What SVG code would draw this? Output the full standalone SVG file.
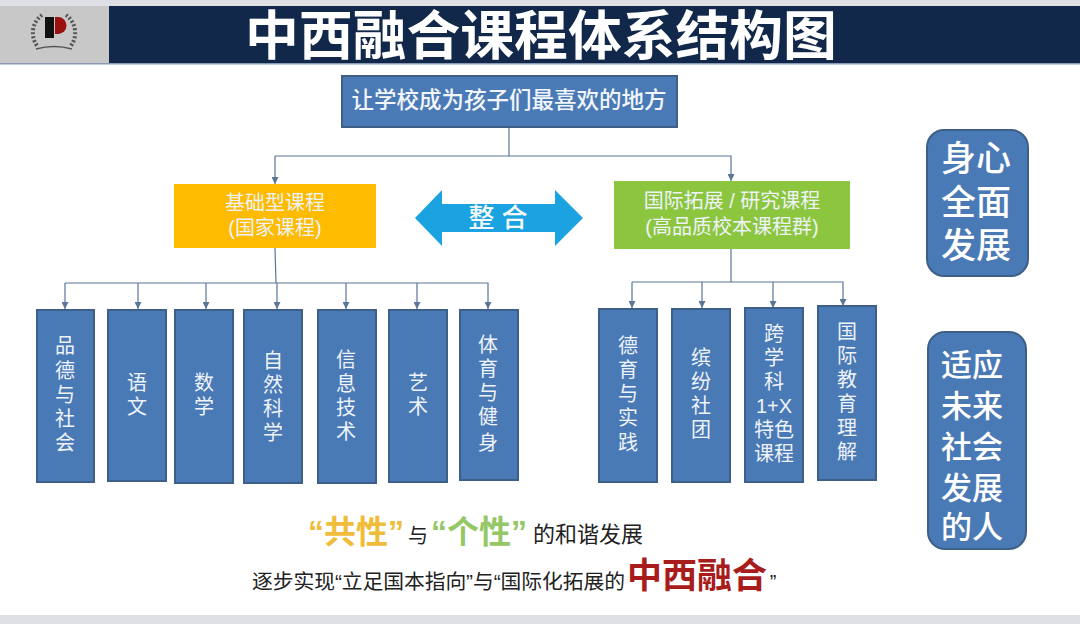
<svg xmlns="http://www.w3.org/2000/svg" width="1080" height="624" viewBox="0 0 1080 624">
<defs>
<marker id="ah" markerWidth="7" markerHeight="7" refX="7" refY="3.5" orient="auto" markerUnits="userSpaceOnUse"><path d="M0 0L7 3.5L0 7Z" fill="#5b7597"/></marker>
</defs>
<style>
text{font-family:"Liberation Sans","Noto Sans CJK SC",sans-serif;text-anchor:middle}
.b{fill:#4a7ab5;stroke:#3d5f88;stroke-width:2}
.t{fill:#eef3f9;font-size:20px}
.c{fill:none;stroke:#5b7597;stroke-width:1.2}
.a{marker-end:url(#ah)}
.big{fill:#fff;font-size:35px;font-weight:500}
.big2{fill:#fff;font-size:31px;font-weight:500}
</style>
<rect width="1080" height="624" fill="#fff"/>
<rect width="1080" height="6" fill="#dfe0e6"/>
<rect y="615" width="1080" height="9" fill="#dfe0e6"/>
<g id="header">
<rect y="6" width="109" height="58" fill="#c8c8c8"/>
<rect x="109" y="6" width="971" height="58" fill="#12284a"/>
<rect y="63" width="1080" height="1.5" fill="#8a9ab5"/>
<path d="M42 15A22 22 0 0 0 38 47M66 15A22 22 0 0 1 70 47" fill="none" stroke="#555" stroke-width="4" stroke-dasharray="2 2"/>
<path d="M36 49Q54 44 72 49" fill="none" stroke="#555" stroke-width="1.5"/>
<rect x="45" y="17" width="9" height="21" fill="#111"/>
<path d="M55 17H58A8.5 8.5 0 0 1 58 34H55Z" fill="#9c1010"/>
</g>
<g id="title"><text x="541" y="55" fill="#fff" style="font-size:53.8px;font-weight:700">中西融合课程体系结构图</text></g>
<g id="connectors">
<path class="c" d="M509 128V156"/>
<path class="c a" d="M275 156H731V181"/>
<path class="c a" d="M275 156V184"/>
<path class="c" d="M275 248L276 283"/>
<path class="c a" d="M65 283H488V309"/>
<path class="c a" d="M65 283V309"/>
<path class="c a" d="M138 283V309"/>
<path class="c a" d="M206 283V309"/>
<path class="c a" d="M277 283V309"/>
<path class="c a" d="M346 283V309"/>
<path class="c a" d="M417 283V309"/>
<path class="c" d="M731 249V282"/>
<path class="c a" d="M632 282H843V306"/>
<path class="c a" d="M632 282V308"/>
<path class="c a" d="M702 282V308"/>
<path class="c a" d="M773 282V308"/>
</g>
<g id="n-root"><rect class="b" x="342" y="76" width="335" height="51"/><text x="509" y="108" style="font-size:22.5px;font-weight:500;fill:#f2f6fb">让学校成为孩子们最喜欢的地方</text></g>
<g id="n-basic"><rect x="174" y="184" width="202" height="64" fill="#ffbb00"/><text class="t" x="275" y="210"><tspan x="275" y="210">基础型课程</tspan><tspan x="275" y="235">(国家课程)</tspan></text></g>
<g id="n-intl"><rect x="614" y="181" width="236" height="68" fill="#8cc63f"/><text class="t"><tspan x="732" y="208">国际拓展 / 研究课程</tspan><tspan x="732" y="234">(高品质校本课程群)</tspan></text></g>
<g id="n-merge"><path d="M415 218L442 190V204H555V190L583 218L555 246V232H442V246Z" fill="#1aa3e0"/><text x="498" y="227" style="font-size:26px;font-weight:500;fill:#f2f8fc">整 合</text></g>
<g id="n1"><rect class="b" x="37" y="310" width="57" height="172"/><text class="t"><tspan x="65" y="353">品</tspan><tspan x="65" y="378">德</tspan><tspan x="65" y="402">与</tspan><tspan x="65" y="426">社</tspan><tspan x="65" y="450">会</tspan></text></g>
<g id="n2"><rect class="b" x="108" y="310" width="58" height="171"/><text class="t"><tspan x="137" y="390">语</tspan><tspan x="137" y="414">文</tspan></text></g>
<g id="n3"><rect class="b" x="175" y="310" width="58" height="173"/><text class="t"><tspan x="204" y="390">数</tspan><tspan x="204" y="414">学</tspan></text></g>
<g id="n4"><rect class="b" x="244" y="310" width="58" height="173"/><text class="t"><tspan x="273" y="368">自</tspan><tspan x="273" y="392">然</tspan><tspan x="273" y="416">科</tspan><tspan x="273" y="440">学</tspan></text></g>
<g id="n5"><rect class="b" x="318" y="310" width="58" height="173"/><text class="t"><tspan x="346" y="367">信</tspan><tspan x="346" y="391">息</tspan><tspan x="346" y="415">技</tspan><tspan x="346" y="439">术</tspan></text></g>
<g id="n6"><rect class="b" x="389" y="310" width="58" height="172"/><text class="t"><tspan x="418" y="390">艺</tspan><tspan x="418" y="414">术</tspan></text></g>
<g id="n7"><rect class="b" x="460" y="310" width="58" height="170"/><text class="t"><tspan x="488" y="352">体</tspan><tspan x="488" y="376">育</tspan><tspan x="488" y="400">与</tspan><tspan x="488" y="424">健</tspan><tspan x="488" y="450">身</tspan></text></g>
<g id="n8"><rect class="b" x="599" y="309" width="58" height="173"/><text class="t"><tspan x="628" y="353">德</tspan><tspan x="628" y="377">育</tspan><tspan x="628" y="401">与</tspan><tspan x="628" y="425">实</tspan><tspan x="628" y="450">践</tspan></text></g>
<g id="n9"><rect class="b" x="672" y="309" width="58" height="173"/><text class="t"><tspan x="701" y="365">缤</tspan><tspan x="701" y="389">纷</tspan><tspan x="701" y="413">社</tspan><tspan x="701" y="437">团</tspan></text></g>
<g id="n10"><rect class="b" x="745" y="308" width="58" height="174"/><text class="t"><tspan x="774" y="341">跨</tspan><tspan x="774" y="365">学</tspan><tspan x="774" y="389">科</tspan><tspan x="774" y="413">1+X</tspan><tspan x="774" y="437">特色</tspan><tspan x="774" y="461">课程</tspan></text></g>
<g id="n11"><rect class="b" x="818" y="306" width="58" height="174"/><text class="t"><tspan x="847" y="339">国</tspan><tspan x="847" y="363">际</tspan><tspan x="847" y="387">教</tspan><tspan x="847" y="411">育</tspan><tspan x="847" y="435">理</tspan><tspan x="847" y="459">解</tspan></text></g>
<g id="side1"><rect class="b" x="927" y="130" width="101" height="146" rx="17"/><text class="big"><tspan x="976" y="171">身心</tspan><tspan x="976" y="215">全面</tspan><tspan x="976" y="258">发展</tspan></text></g>
<g id="side2"><rect class="b" x="928" y="332" width="98" height="217" rx="17"/><text class="big2"><tspan x="972" y="376">适应</tspan><tspan x="972" y="417">未来</tspan><tspan x="972" y="458">社会</tspan><tspan x="972" y="499">发展</tspan><tspan x="972" y="538">的人</tspan></text></g>
<g id="caption1">
<text><tspan x="356" y="543" style="font-size:32px;font-weight:700;fill:#f0bd3a">“共性”</tspan><tspan x="418" y="543" style="font-size:20px;fill:#222">与</tspan><tspan x="479" y="543" style="font-size:32px;font-weight:700;fill:#94c765">“个性”</tspan><tspan x="588" y="542" style="font-size:22px;fill:#222">的和谐发展</tspan></text>
</g>
<g id="caption2">
<text x="252" y="589" textLength="373" style="text-anchor:start;font-size:20.8px;fill:#222">逐步实现“立足国本指向”与“国际化拓展的</text>
<text x="697" y="588" style="font-size:35px;font-weight:700;fill:#a81c1c">中西融合</text>
<text x="773" y="589" style="font-size:20px;fill:#222">”</text>
</g>
</svg>
